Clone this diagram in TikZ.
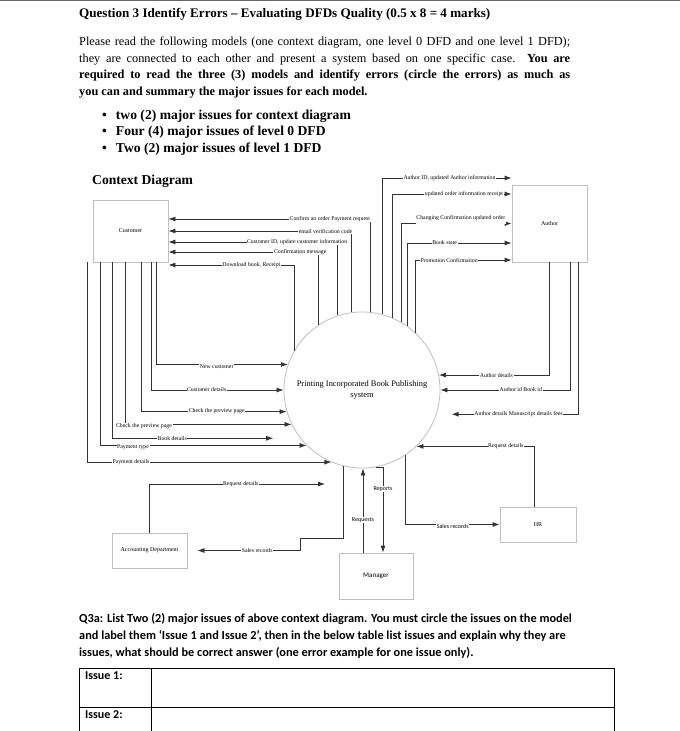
\documentclass[tikz,border=0pt]{standalone}
\usepackage{fontspec}
\setmainfont{Liberation Serif}
\newfontfamily\calib{Carlito}
\usetikzlibrary{arrows.meta}

\begin{document}
\begin{tikzpicture}[x=1pt,y=-1pt,>={Latex[length=7pt,width=5pt]},
  box/.style={draw=black!25,line width=0.8pt,font=\fontsize{6}{7}\selectfont},
  flow/.style={->,draw=black!80,line width=0.8pt},
  lbl/.style={fill=white,inner sep=0.6pt,font=\fontsize{5.8}{6}\selectfont},
  slbl/.style={fill=white,inner sep=0.6pt,font=\calib\fontsize{6}{7}\selectfont},
  head/.style={anchor=base west,inner sep=0pt,font=\bfseries\fontsize{13.6}{15}\selectfont}]
\path[use as bounding box,fill=white] (0,0) rectangle (680,731);
\draw[black!60,line width=1.5pt] (0,0.5) -- (680,0.5);

\node[head,font=\bfseries\fontsize{13.1}{15}\selectfont] (title) at (79,17) {Question 3 Identify Errors -- Evaluating DFDs Quality (0.5 x 8 = 4 marks)};
\node[anchor=north west,inner sep=0pt,text width=491pt,align=justify,font=\fontsize{12.3}{16.5}\selectfont] (intro) at (79,37)
  {\makebox[491pt][s]{Please read the following models (one context diagram, one level 0 DFD and one level 1 DFD);}\\
   \makebox[491pt][s]{they are connected to each other and present a system based on one specific case. \textbf{You are}}\\
   \makebox[491pt][s]{\textbf{required to read the three (3) models and identify errors (circle the errors) as much as}}\\
   \textbf{you can and summary the major issues for each model.}};
\node[head] (b1) at (102,119) {\textbullet\hspace{9pt}two (2) major issues for context diagram};
\node[head] (b2) at (102,135) {\textbullet\hspace{9pt}Four (4) major issues of level 0 DFD};
\node[head] (b3) at (102,152) {\textbullet\hspace{9pt}Two (2) major issues of level 1 DFD};
\node[head] (ctx) at (92,184) {Context Diagram};

\node[box,minimum width=75pt,minimum height=62pt] (cust) at (130.5,231) {Customer};
\node[box,minimum width=75pt,minimum height=77pt] (auth) at (549.5,223.5) {Author};
\node[draw=black!25,line width=0.8pt,circle,minimum size=156pt,inner sep=0pt,align=center,font=\fontsize{8.4}{11}\selectfont] (sys) at (362,390) {Printing Incorporated Book Publishing\\system};
\node[box,minimum width=75pt,minimum height=35pt] (acct) at (149.5,550.5) {Accounting Department};
\node[box,minimum width=76pt,minimum height=35pt] (hr) at (538,524.5) {HR};
\node[box,minimum width=74pt,minimum height=46pt,font=\calib\fontsize{7}{8}\selectfont] (mgr) at (376,576) {Manager};

\draw[flow] (sys.84.9) |- node[lbl,pos=0.6] (l1) {Confirm an order Payment request} ([yshift=12pt]cust.east);
\draw[flow] (sys.98.1) |- node[lbl,pos=0.57] (l2) {email verification code} (cust.east);
\draw[flow] (sys.108.7) |- node[lbl,pos=0.62] (l3) {Customer ID, update customer information} ([yshift=-11pt]cust.east);
\draw[flow] (sys.124.3) |- node[lbl,pos=0.56] (l4) {Confirmation message} ([yshift=-21pt]cust.east);
\draw[flow] (sys.150.7) |- node[lbl,pos=0.67] (l5) {Download book, Receipt} ([yshift=-34pt]cust.east);

\draw[flow] (sys.75.9) |- node[lbl,pos=0.76] (l6) {Author ID, updated Author information} ([yshift=45.5pt]auth.west);
\draw[flow] (sys.67.4) |- node[lbl,pos=0.8] (l7) {updated order information receipt} ([yshift=29.5pt]auth.west);
\draw[flow] (sys.60.8) |- node[lbl,pos=0.77,yshift=5pt,inner ysep=2.5pt] (l8) {Changing Confirmation updated order} (auth.west);
\draw[flow] (sys.55.7) |- node[lbl,pos=0.68] (l9) {Book state} ([yshift=-19.5pt]auth.west);
\draw[flow] (sys.47.2) |- node[lbl,pos=0.675] (l10) {Promotion Confirmation} ([yshift=-36.5pt]auth.west);

\draw[flow] (auth.south) |- node[lbl,pos=0.74] (l11) {Author details} (sys.11.1);
\draw[flow] ([xshift=20.5pt]auth.south) |- node[lbl,pos=0.69] (l12) {Author id Book id} (sys.0);
\draw[flow,shorten >=15pt] ([xshift=28.5pt]auth.south) |- node[lbl,pos=0.71] (l13) {Author details Manuscript details fees} (sys.-18.7);

\draw[flow] ([xshift=25.5pt]cust.south) |- node[lbl,pos=0.73,yshift=-2pt] (l14) {New customer} (sys.161.3);
\draw[flow] ([xshift=20.5pt]cust.south) |- node[lbl,pos=0.71] (l15) {Customer details} (sys.180);
\draw[flow] ([xshift=10.5pt]cust.south) |- node[lbl,pos=0.76] (l16) {Check the preview page} (sys.196.4);
\draw[flow] ([xshift=-5.5pt]cust.south) |- node[lbl,pos=0.557,yshift=-2pt] (l17) {Check the preview page} (sys.206.7);
\draw[flow,shorten >=27pt] ([xshift=-18.5pt]cust.south) |- node[lbl,pos=0.66] (l18) {Book details} (sys.218);
\draw[flow] ([xshift=-30.5pt]cust.south) |- node[lbl,pos=0.58,yshift=-2pt] (l19) {Payment type} (sys.225.9);
\draw[flow] ([xshift=-43.5pt]cust.south) |- node[lbl,pos=0.59] (l20) {Payment details} (sys.247.4);

\coordinate (reqend) at (325,484);
\draw[flow] (acct.north) |- node[lbl,pos=0.76] (l21) {Request details} (reqend);
\coordinate (salesbend) at (300,538);
\draw[flow,shorten >=10pt] (sys.256.7) |- (salesbend) |- node[lbl,pos=0.69] (l22) {Sales records} (acct.east);

\coordinate (rq) at ([xshift=-13pt]mgr.north);
\draw[flow] (rq) -- node[slbl,pos=0.39] (l23) {Requests} (rq |- sys.south);
\draw[flow] (sys.-80.4) -| node[slbl,pos=0.63] (l24) {Reports} ([xshift=7pt]mgr.north);
\draw[flow] (sys.-56.5) |- node[slbl,pos=0.75,yshift=-2pt] (l25) {Sales records} (hr.west);
\draw[flow] ([xshift=-4pt]hr.north) |- node[lbl,pos=0.62] (l26) {Request details} (sys.-46.9);

\node[anchor=north west,inner sep=0pt,align=left,font=\calib\bfseries\fontsize{12.3}{17}\selectfont] (q3a) at (79,613)
  {Q3a: List Two (2) major issues of above context diagram. You must circle the issues on the model\\
   and label them ‘Issue 1 and Issue 2’, then in the below table list issues and explain why they are\\
   issues, what should be correct answer (one error example for one issue only).};
\draw[black,line width=0.8pt] (79,740) -- (79,668) -- (614,668) -- (614,740);
\draw[black,line width=0.8pt] (79,707) -- (614,707);
\draw[black,line width=0.8pt] (151,668) -- (151,740);
\node[anchor=north west,inner sep=0pt,font=\calib\bfseries\fontsize{12}{13}\selectfont] (is1) at (85,671) {Issue 1:};
\node[anchor=north west,inner sep=0pt,font=\calib\bfseries\fontsize{12}{13}\selectfont] (is2) at (85,710) {Issue 2:};
\end{tikzpicture}
\end{document}
